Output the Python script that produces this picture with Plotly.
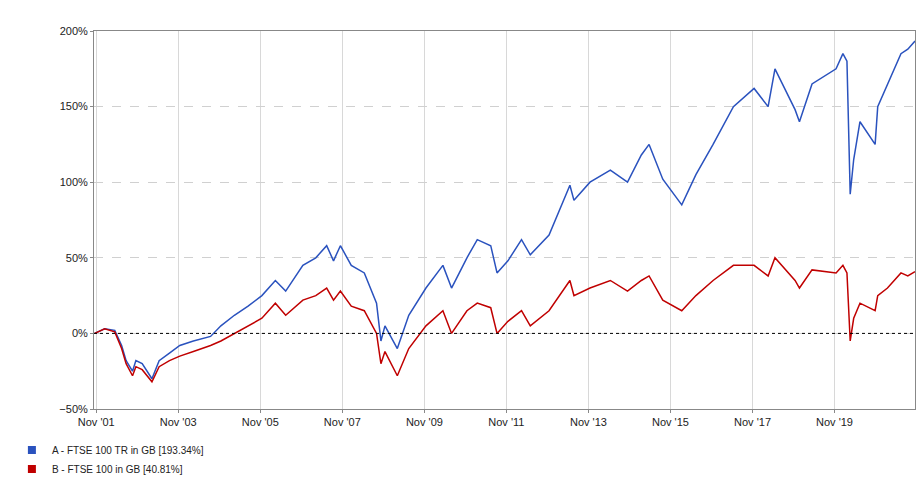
import plotly.graph_objects as go

dates = ['2001-10-18', '2002-01-15', '2002-04-15', '2002-06-15', '2002-07-25', '2002-09-20',
         '2002-10-20', '2002-12-15', '2003-03-12', '2003-05-15', '2003-08-15', '2003-11-15',
         '2004-03-15', '2004-08-15', '2004-11-15', '2005-03-15', '2005-07-15', '2005-11-15',
         '2006-03-15', '2006-06-15', '2006-11-15', '2007-03-10', '2007-06-15', '2007-08-15',
         '2007-10-15', '2008-01-20', '2008-05-15', '2008-09-01', '2008-10-10', '2008-11-15',
         '2009-03-05', '2009-06-15', '2009-11-15', '2010-04-15', '2010-07-01', '2010-11-15',
         '2011-02-15', '2011-06-15', '2011-08-10', '2011-11-15', '2012-03-15', '2012-06-01',
         '2012-11-15', '2013-05-20', '2013-06-25', '2013-11-15', '2014-05-15', '2014-10-15',
         '2015-02-15', '2015-04-25', '2015-08-25', '2016-02-10', '2016-06-15', '2016-11-15',
         '2017-05-15', '2017-11-15', '2018-03-20', '2018-05-20', '2018-11-15', '2018-12-24',
         '2019-04-15', '2019-11-15', '2020-01-15', '2020-02-20', '2020-03-20', '2020-04-20',
         '2020-06-15', '2020-10-28', '2020-11-20', '2021-02-15', '2021-06-15', '2021-08-15',
         '2021-10-18']

ftse_tr = [0, 3, 2, -8, -18, -25, -18, -20, -30, -18, -13, -8,
           -5, -2, 5, 12, 18, 25, 35, 28, 45, 50, 58, 48,
           58, 45, 40, 20, -5, 5, -10, 12, 30, 45, 30, 50,
           62, 58, 40, 48, 62, 52, 65, 98, 88, 100, 108, 100,
           118, 125, 102, 85, 105, 125, 150, 162, 150, 175, 148, 140,
           165, 175, 185, 180, 92, 115, 140, 125, 150, 165, 185, 188,
           193.34]

ftse = [0, 3, 1, -10, -20, -28, -22, -24, -32, -22, -18, -15,
        -12, -8, -5, 0, 5, 10, 20, 12, 22, 25, 30, 22,
        28, 18, 15, 0, -20, -12, -28, -10, 5, 15, 0, 15,
        20, 17, 0, 8, 15, 5, 15, 35, 25, 30, 35, 28,
        35, 38, 22, 15, 25, 35, 45, 45, 38, 50, 35, 30,
        42, 40, 45, 40, -5, 10, 20, 15, 25, 30, 40, 38,
        40.81]

tick_vals = ['2001-11-01', '2003-11-01', '2005-11-01', '2007-11-01', '2009-11-01',
             '2011-11-01', '2013-11-01', '2015-11-01', '2017-11-01', '2019-11-01']
tick_text = ["Nov '01", "Nov '03", "Nov '05", "Nov '07", "Nov '09",
             "Nov '11", "Nov '13", "Nov '15", "Nov '17", "Nov '19"]

names = ['A - FTSE 100 TR in GB [193.34%]', 'B - FTSE 100 in GB [40.81%]']
blue = '#2A52BE'
red = '#C00000'

fig = go.Figure()
for vals, col, name in ((ftse_tr, blue, names[0]), (ftse, red, names[1])):
    fig.add_trace(go.Scatter(x=dates, y=vals, mode='lines', line=dict(color=col, width=1.5),
                             showlegend=False))
    # square swatch for legend only
    fig.add_trace(go.Scatter(x=[None], y=[None], mode='markers', name=name,
                             marker=dict(symbol='square', size=8, color=col)))

fig.add_hline(y=0, line=dict(color='black', width=1, dash='dot'))
for lbl, val in (('A', ftse_tr[-1]), ('B', ftse[-1])):
    fig.add_annotation(x=dates[-1], y=val, text='<b>%s</b>' % lbl, showarrow=False,
                       xanchor='left', xshift=1, font=dict(size=11, color='#333'))
fig.add_annotation(xref='paper', yref='paper', x=1.01, y=-0.215, xanchor='right', yanchor='top',
                   text='18/10/2001 - 18/10/2021 Data from FE fundinfo2021', showarrow=False,
                   font=dict(size=11, color='#222'))

fig.update_layout(
    width=924, height=490, margin=dict(l=86, r=17, t=23, b=89, autoexpand=False),
    plot_bgcolor='white', paper_bgcolor='white',
    font=dict(family='Arial, Liberation Sans, sans-serif', size=11, color='#222'),
    showlegend=True,
    legend=dict(x=-0.1, y=-0.07, xanchor='left', yanchor='top', font=dict(size=10),
                itemwidth=30, tracegroupgap=0, bgcolor='rgba(0,0,0,0)'),
)
fig.update_xaxes(range=['2001-10-12', '2021-10-18'], tickvals=tick_vals, ticktext=tick_text,
                 showgrid=True, gridcolor='#d8d8d8', showline=True, linecolor='#888',
                 mirror=True, ticks='outside', ticklen=3, tickcolor='#888')
fig.update_yaxes(range=[-50, 200], dtick=50, ticksuffix='%', showgrid=True, gridcolor='#d0d0d0',
                 griddash='dash', showline=True, linecolor='#888', mirror=True, zeroline=False,
                 ticks='outside', ticklen=3, tickcolor='#888')

fig.write_html('out.html')
